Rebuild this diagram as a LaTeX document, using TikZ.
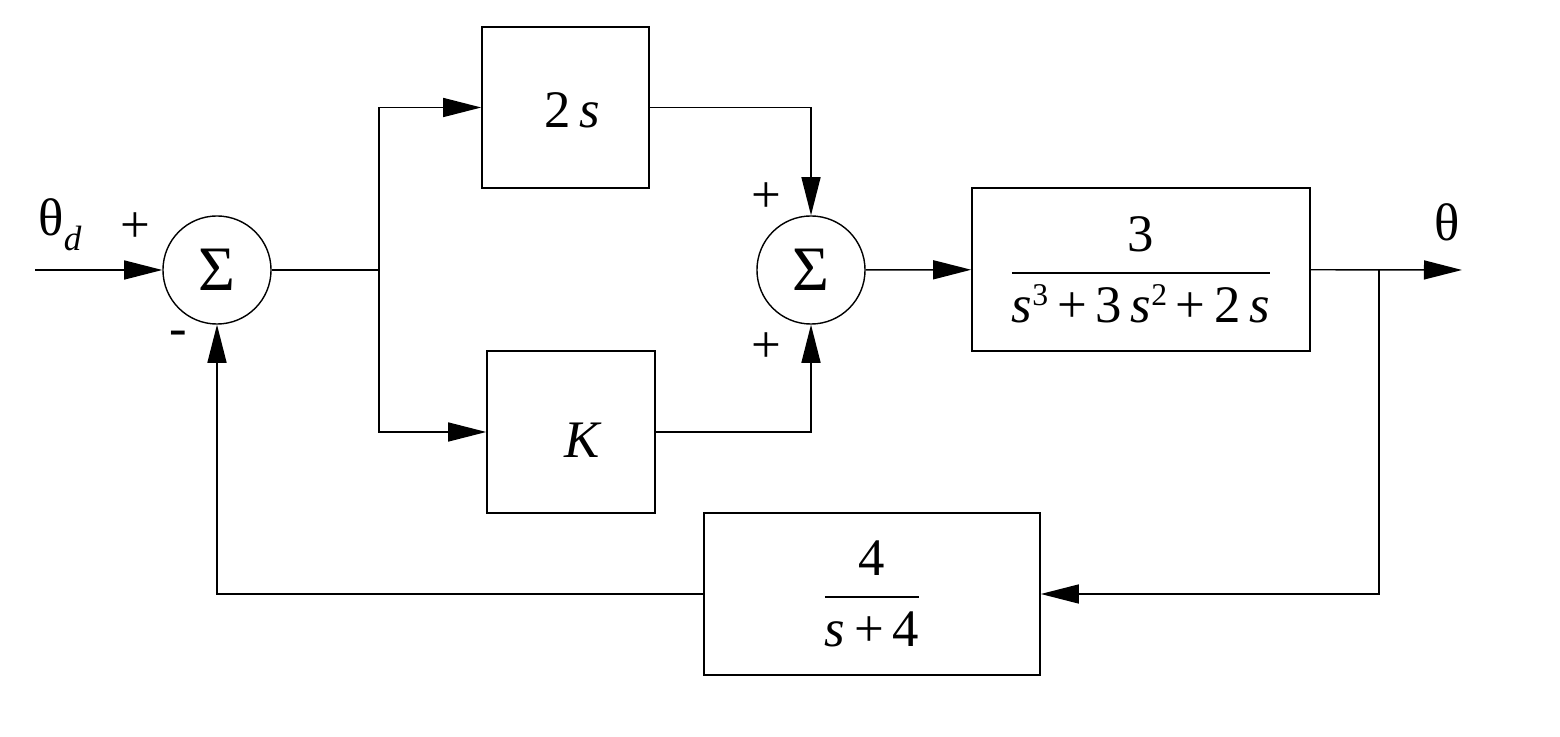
\documentclass[tikz,border=0pt]{standalone}
\usepackage{amsmath}
\usepackage{fontspec}
\newfontfamily\tms{Liberation Serif}
\usetikzlibrary{arrows.meta}
\newcommand\myfrac[2]{$\dfrac{\hbox{#1}}{\hbox{\rule{0pt}{0.8em}#2}}$}
\begin{document}
\begin{tikzpicture}[x=0.01cm,y=-0.01cm,
  blk/.style={draw,thin,inner sep=0pt},
  sum/.style={draw,thin,circle,minimum size=1.08cm,inner sep=0pt,font=\tms\fontsize{18}{20}\selectfont},
  arr/.style={-{Triangle[length=0.38cm,width=0.19cm]}},
  every node/.append style={font=\tms\fontsize{15}{17}\selectfont}]
\useasboundingbox (0,0) rectangle (1560,737);
\node[sum] (s1) at (217,270) {Σ};
\node[sum] (s2) at (811,270) {Σ};
\node[blk,minimum width=1.67cm,minimum height=1.61cm] (b2s) at (565.5,107.5) {};
\node at (572,110) {2\,\textit{s}};
\node[blk,minimum width=1.68cm,minimum height=1.62cm] (bK) at (571,432) {};
\node at (583,440) {\textit{K}};
\node[blk,minimum width=3.38cm,minimum height=1.63cm] (bG) at (1141,269.5) {};
\node at (1141,269.5) {\myfrac{\tms 3}{\tms\textit{s}\raisebox{0.7ex}{\fontsize{9}{10}\selectfont 3}\,+\,3\,\textit{s}\raisebox{0.7ex}{\fontsize{9}{10}\selectfont 2}\,+\,2\,\textit{s}}};
\node[blk,minimum width=3.36cm,minimum height=1.62cm] (bH) at (872,594) {};
\node at (872,594) {\myfrac{\tms 4}{\tms\textit{s}\,+\,4}};
\coordinate (in) at (35,270);
\coordinate (br) at (379,270);
\coordinate (out) at (1462,270);
\coordinate (ob) at (1379,270);
\draw[arr] (in) -- (s1);
\draw (s1) -- (br);
\draw[arr] (br) |- (b2s.west);
\draw[arr] (br) |- (bK.west);
\draw[arr] (b2s.east) -| (s2.north);
\draw[arr] (bK.east) -| (s2.south);
\draw[arr] (s2) -- (bG);
\draw[arr] (bG) -- (out);
\draw[arr] (ob) |- (bH.east);
\draw[arr] (bH.west) -| (s1.south);
\node at (60,225) {θ\raisebox{-0.6ex}{\fontsize{10}{12}\selectfont\textit{d}}};
\node at (1447,222) {θ};
\node at (135,228) {+};
\node at (178,338) {-};
\node at (766,198) {+};
\node at (766,348) {+};
\end{tikzpicture}
\end{document}
